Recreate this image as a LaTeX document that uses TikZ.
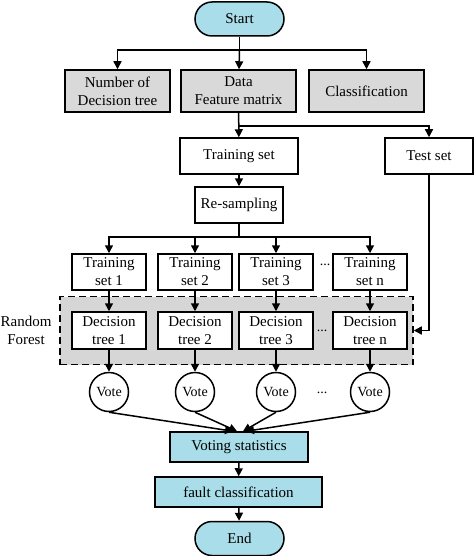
\documentclass[tikz,border=0pt]{standalone}
\usepackage{fontspec}
\setmainfont{Liberation Serif}
\usetikzlibrary{arrows.meta, positioning, calc}
\definecolor{termcyan}{RGB}{168, 221, 233}
\definecolor{inputgray}{RGB}{217, 217, 217}
\definecolor{forestgray}{RGB}{214, 214, 214}
\tikzstyle{terminal} = [rectangle, draw, fill=termcyan, minimum width=89pt, minimum height=34pt, rounded corners=17pt, line width=1.5pt, font=\fontsize{15}{18}\selectfont]
\tikzstyle{inputbox} = [rectangle, draw, fill=inputgray, minimum width=115pt, minimum height=42pt, align=center, inner sep=1pt, line width=1.5pt, font=\fontsize{15}{18}\selectfont]
\tikzstyle{setbox} = [rectangle, draw, fill=white, minimum width=88pt, minimum height=36pt, align=center, inner sep=1pt, line width=1.5pt, font=\fontsize{15}{18}\selectfont]
\tikzstyle{smallbox} = [setbox, minimum width=74pt, minimum height=36pt]
\tikzstyle{forestbox} = [rectangle, draw, dash pattern=on 7pt off 4pt, fill=forestgray, minimum width=353pt, minimum height=68pt, line width=1.5pt]
\tikzstyle{vote} = [circle, draw, fill=white, minimum size=39pt, inner sep=0pt, line width=1.5pt, font=\fontsize{14}{16}\selectfont]
\tikzstyle{result} = [rectangle, draw, fill=termcyan, minimum height=30pt, line width=1.5pt, font=\fontsize{15}{18}\selectfont]
\tikzstyle{dots} = [font=\fontsize{14}{16}\selectfont]
\tikzstyle{arrow} = [-{Triangle[length=8pt, width=8pt]}, line width=1.5pt]

\begin{document}
\begin{tikzpicture}[x=1pt, y=-1pt]
    \useasboundingbox (0,0) rectangle (474,556);

    % Start
    \node[terminal] (start) at (239.5, 19) {Start};
    \coordinate (split1) at (239.5, 50);

    % Inputs
    \node[inputbox, minimum width=105pt] (ntree) at (117.5, 91) {Number of\\Decision tree};
    \node[inputbox] (data) at (238.5, 91) {Data\\Feature matrix};
    \node[inputbox] (classif) at (366.5, 91) {Classification};

    \draw[line width=1.5pt] (start) -- (split1);
    \draw[arrow] (split1) -| (ntree);
    \draw[arrow] (split1) -- (data);
    \draw[arrow] (split1) -| (classif);

    % Training and test sets
    \coordinate (split2) at (239, 126);
    \node[setbox, minimum width=118pt] (train) at (239, 156) {Training set};
    \node[setbox] (test) at (429, 156) {Test set};

    \draw[arrow] (data) -- (train);
    \draw[arrow] (split2) -| (test);

    % Re-sampling
    \node[setbox] (resamp) at (239, 205) {Re-sampling};
    \draw[arrow] (train) -- (resamp);
    \coordinate (split3) at (239, 237);

    % Random forest region
    \node[forestbox] (forest) at (236.5, 330.5) {};
    \node[align=center, font=\fontsize{15}{18}\selectfont] (forestlabel) at (26, 330) {Random\\Forest};

    % Bootstrap training sets
    \node[smallbox] (ts1) at (109, 272) {Training\\set 1};
    \node[smallbox] (ts2) at (195, 272) {Training\\set 2};
    \node[smallbox] (ts3) at (276, 272) {Training\\set 3};
    \node[smallbox] (tsn) at (370, 272) {Training\\set n};
    \node[dots] (tsdots) at (325, 265) {...};

    \draw[line width=1.5pt] (resamp) -- (split3);
    \draw[arrow] (split3) -| (ts1);
    \draw[arrow] (split3) -| (ts2);
    \draw[arrow] (split3) -| (ts3);
    \draw[arrow] (split3) -| (tsn);

    % Decision trees
    \node[smallbox, minimum height=37pt] (dt1) at (109, 330.5) {Decision\\tree 1};
    \node[smallbox, minimum height=37pt] (dt2) at (195, 330.5) {Decision\\tree 2};
    \node[smallbox, minimum height=37pt] (dt3) at (276, 330.5) {Decision\\tree 3};
    \node[smallbox, minimum height=37pt] (dtn) at (370, 330.5) {Decision\\tree n};
    \node[dots] (dtdots) at (322, 331) {...};

    \draw[arrow] (ts1) -- (dt1);
    \draw[arrow] (ts2) -- (dt2);
    \draw[arrow] (ts3) -- (dt3);
    \draw[arrow] (tsn) -- (dtn);
    \draw[arrow] (test) |- (forest);

    % Votes
    \node[vote] (vote1) at (109, 392) {Vote};
    \node[vote] (vote2) at (195, 392) {Vote};
    \node[vote] (vote3) at (276, 392) {Vote};
    \node[vote] (voten) at (370, 392) {Vote};
    \node[dots] (votedots) at (322, 393) {...};

    \draw[arrow] (dt1) -- (vote1);
    \draw[arrow] (dt2) -- (vote2);
    \draw[arrow] (dt3) -- (vote3);
    \draw[arrow] (dtn) -- (voten);

    % Voting and result
    \node[result, minimum width=138pt] (vstat) at (239, 447) {Voting statistics};
    \node[result, minimum width=167pt] (fault) at (238.5, 492) {fault classification};
    \node[terminal] (stop) at (239.5, 538.5) {End};

    \draw[arrow] (vote1.south) -- ([xshift=-6pt]vstat.north);
    \draw[arrow] (vote2.south) -- ([xshift=-2pt]vstat.north);
    \draw[arrow] (vote3.south) -- ([xshift=4pt]vstat.north);
    \draw[arrow] (voten.south) -- ([xshift=7pt]vstat.north);
    \draw[arrow] (vstat) -- (fault);
    \draw[arrow] (fault) -- (stop);
\end{tikzpicture}
\end{document}
